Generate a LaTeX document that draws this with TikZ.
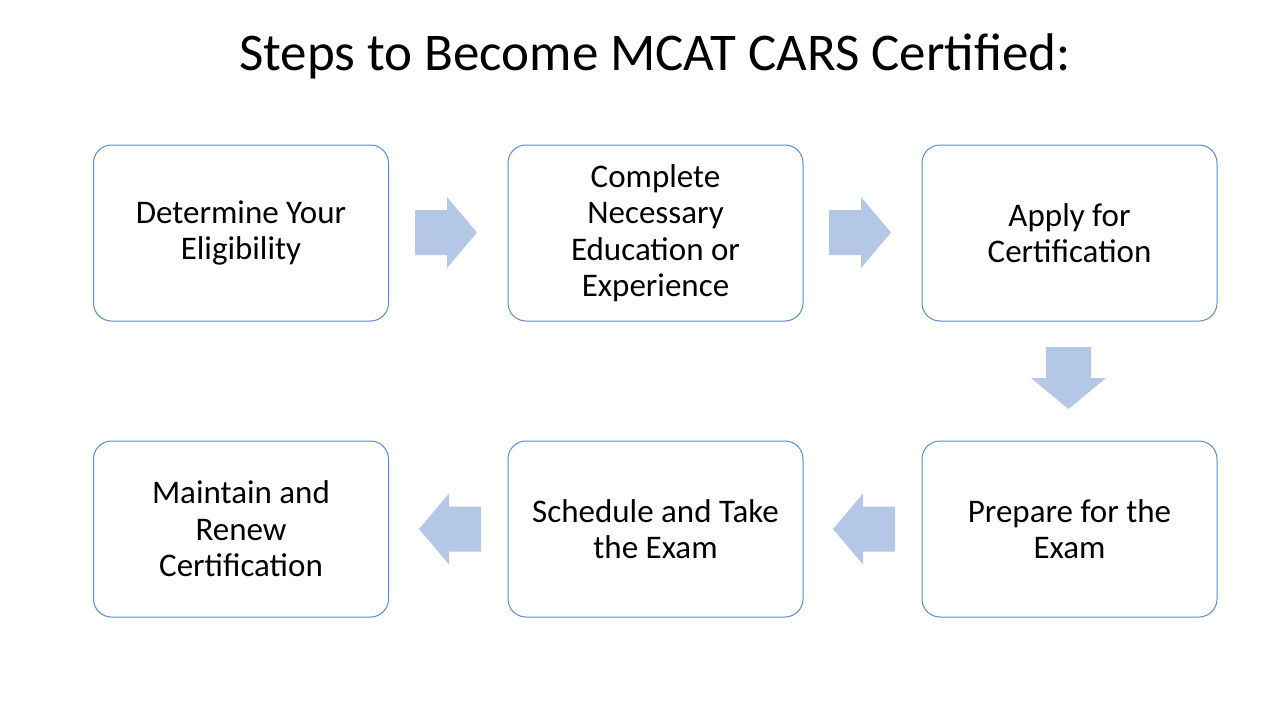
\documentclass[tikz,border=0pt]{standalone}
\usepackage{fontspec}
\setmainfont{Carlito}
\definecolor{boxline}{HTML}{5B8CC8}
\definecolor{arrowfill}{HTML}{B4C7E7}
\begin{document}
\begin{tikzpicture}[x=1pt,y=-1pt,
  stepbox/.style={draw=boxline, line width=1pt, rounded corners=18pt, minimum width=295pt, minimum height=176pt, align=center, font=\fontsize{33}{36.5}\selectfont, inner sep=0pt},
  blockarrow/.style={fill=arrowfill, draw=none}]
\useasboundingbox (0,0) rectangle (1280,720);
\node (title) at (655,56) {\fontsize{53}{60}\selectfont Steps to Become MCAT CARS Certified:};
\node[stepbox] (s1) at (241,233) {Determine Your\\Eligibility};
\node[stepbox] (s2) at (655.5,233) {Complete\\Necessary\\Education or\\Experience};
\node[stepbox] (s3) at (1069.5,233) {Apply for\\Certification};
\node[stepbox] (s4) at (1069.5,529) {Prepare for the\\Exam};
\node[stepbox] (s5) at (655.5,529) {Schedule and Take\\the Exam};
\node[stepbox] (s6) at (241,529) {Maintain and\\Renew\\Certification};
% right arrows
\fill[blockarrow] (415,210) -- (447,210) -- (447,197) -- (477,232.5) -- (447,268) -- (447,255) -- (415,255) -- cycle;
\fill[blockarrow] (829,210) -- (861,210) -- (861,197) -- (891,232.5) -- (861,268) -- (861,255) -- (829,255) -- cycle;
% down arrow
\fill[blockarrow] (1046,347) -- (1091,347) -- (1091,378) -- (1106,378) -- (1068.5,409) -- (1031,378) -- (1046,378) -- cycle;
% left arrows
\fill[blockarrow] (895,506.5) -- (863,506.5) -- (863,493.5) -- (833,529) -- (863,564.5) -- (863,551.5) -- (895,551.5) -- cycle;
\fill[blockarrow] (481,506.5) -- (449,506.5) -- (449,493.5) -- (419,529) -- (449,564.5) -- (449,551.5) -- (481,551.5) -- cycle;
\end{tikzpicture}
\end{document}
